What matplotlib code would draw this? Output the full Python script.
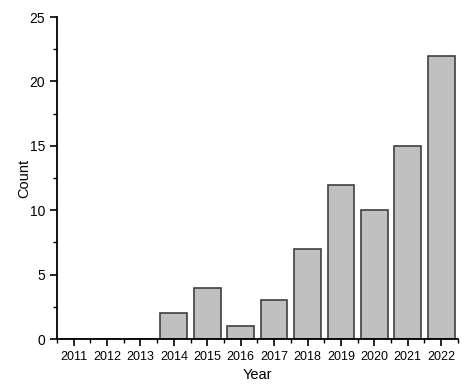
import matplotlib
matplotlib.use("Agg")
import matplotlib.pyplot as plt
from matplotlib.ticker import MultipleLocator

# Publication counts per year
years = [2011, 2012, 2013, 2014, 2015, 2016, 2017, 2018, 2019, 2020, 2021, 2022]
counts = [0, 0, 0, 2, 4, 1, 3, 7, 12, 10, 15, 22]

plt.rcParams["font.family"] = ["Liberation Sans", "DejaVu Sans"]

fig = plt.figure(figsize=(4.74, 3.89), dpi=100)
ax = fig.add_axes([0.12, 0.1285, 0.846, 0.8275])

ax.bar(years, counts, width=0.8, color="#c0c0c0", edgecolor="#404040", linewidth=1.2)

ax.set_xlim(2010.5, 2022.5)
ax.set_ylim(0, 25)
ax.set_xticks(years)
ax.set_xticklabels([str(y) for y in years])
ax.xaxis.set_minor_locator(MultipleLocator(0.5))
ax.yaxis.set_major_locator(MultipleLocator(5))
ax.yaxis.set_minor_locator(MultipleLocator(2.5))

for side in ["top", "right"]:
    ax.spines[side].set_visible(False)
for side in ["left", "bottom"]:
    ax.spines[side].set_linewidth(1.3)

ax.tick_params(which="major", direction="out", length=5, width=1.2, labelsize=9)
ax.tick_params(which="minor", direction="out", length=3, width=1.0)
ax.tick_params(axis="y", which="major", labelsize=10)

ax.set_xlabel("Year", fontsize=10.5, labelpad=4)
ax.set_ylabel("Count", fontsize=10.5, labelpad=-1)

fig.savefig("out.png", dpi=100)
